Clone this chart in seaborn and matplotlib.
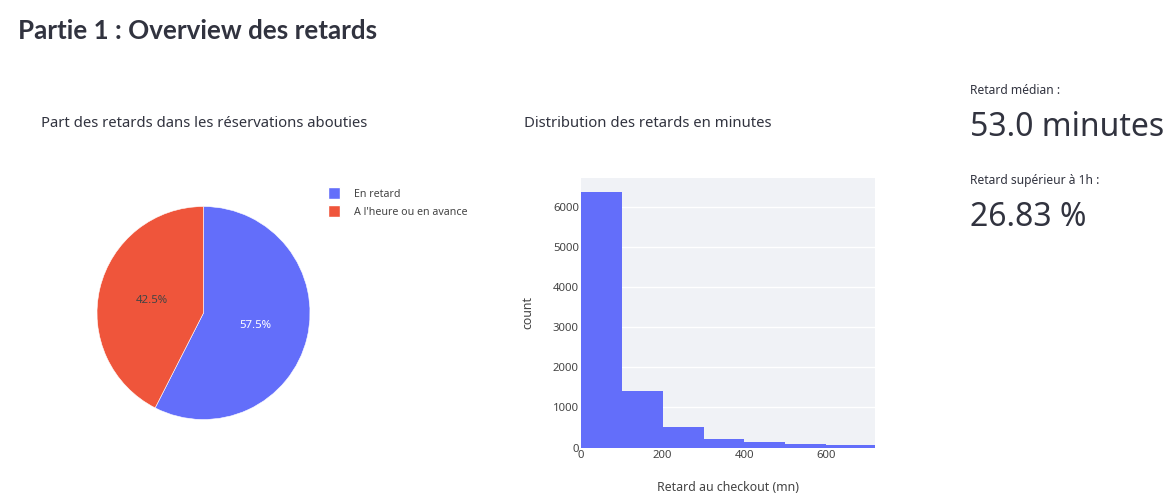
import matplotlib
matplotlib.use('Agg')
import matplotlib.pyplot as plt
from matplotlib.patches import Patch
import numpy as np
import seaborn as sns

pie_labels = ['En retard', "A l'heure ou en avance"]
pie_values = [57.5, 42.5]
pie_colors = ['#636EFA', '#EF553B']

bin_edges = [0, 100, 200, 300, 400, 500, 600, 700, 800]
bin_counts = [6390, 1412, 512, 212, 140, 92, 68, 68]
x_ticks = [0, 200, 400, 600]
y_ticks = [0, 1000, 2000, 3000, 4000, 5000, 6000]

W, H = 1175, 501
TEXT = '#31333F'
TICK = '#444444'

sns.set_theme(style='white')
plt.rcParams['font.family'] = ['Noto Sans', 'DejaVu Sans']

def box(left, top, right, bottom):
	return [left / W, 1 - bottom / H, (right - left) / W, (bottom - top) / H]

fig = plt.figure(figsize=(W / 100, H / 100), dpi=100, facecolor='white')

# headers and text blocks, placed in pixels
def put(x, y, s, size, **kw):
	fig.text(x / W, 1 - y / H, s, fontsize=size, color=TEXT, va='center', **kw)

put(18, 31, 'Partie 1 : Overview des retards', 18.7, fontweight='bold', family=['Lato', 'DejaVu Sans'])
put(41, 123.5, 'Part des retards dans les réservations abouties', 10.7)
put(524, 123.5, 'Distribution des retards en minutes', 10.7)
put(970, 91, 'Retard médian :', 8.7)
put(970, 128, '53.0 minutes', 23)
put(970, 180.5, 'Retard supérieur à 1h :', 8.7)
put(970, 217, '26.83 %', 23)

# pie
ax_pie = fig.add_axes(box(97, 206.5, 310, 419.5))
wedges, _, autotexts = ax_pie.pie(pie_values, colors=pie_colors, startangle=90, counterclock=False,
	radius=1, autopct='%.1f%%', pctdistance=0.5,
	wedgeprops={'edgecolor': 'white', 'linewidth': 0.4}, textprops={'fontsize': 8.2})
autotexts[0].set_color('white')
autotexts[1].set_color(TICK)
ax_pie.set_xlim(-1, 1)
ax_pie.set_ylim(-1, 1)

handles = [Patch(facecolor=c, label=l) for c, l in zip(pie_colors, pie_labels)]
leg = fig.legend(handles=handles, loc='upper left', bbox_to_anchor=(328 / W, 1 - 187 / H), frameon=False,
	fontsize=7.7, handlelength=1.15, handleheight=1.35, handletextpad=1.25, labelspacing=0.55, borderpad=0, borderaxespad=0)
for t in leg.get_texts():
	t.set_color(TICK)

# histogram
ax = fig.add_axes(box(581, 178, 875, 447.5))
ax.set_facecolor('#F0F2F6')
sns.histplot(x=bin_edges[:-1], weights=bin_counts, bins=bin_edges, color=pie_colors[0], alpha=1,
	linewidth=0, ax=ax, zorder=3)
ax.set_xlim(0, 720)
ax.set_ylim(0, 6737)
ax.set_xticks(x_ticks)
ax.set_yticks(y_ticks)
ax.grid(axis='y', color='white', linewidth=1, zorder=1)
ax.set_axisbelow(True)
sns.despine(ax=ax, left=True, bottom=True, top=True, right=True)
ax.tick_params(axis='both', length=0, labelsize=8.2, labelcolor=TICK, pad=1.5)
ax.set_xlabel('Retard au checkout (mn)', fontsize=8.9, color=TICK)
ax.set_ylabel('count', fontsize=8.9, color=TICK)
ax.xaxis.set_label_coords(0.5, -0.125)
ax.yaxis.set_label_coords(-0.158, 0.5)

fig.savefig('out.png', dpi=100)
